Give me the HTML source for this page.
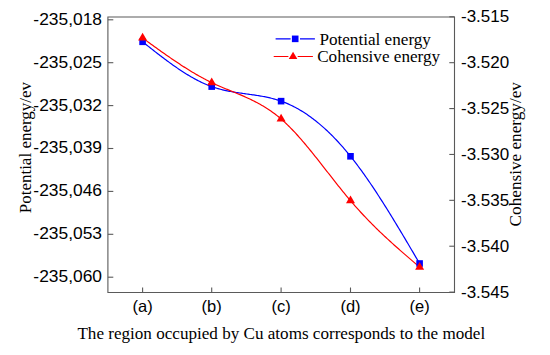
<!DOCTYPE html>
<html><head><meta charset="utf-8"><style>
html,body{margin:0;padding:0;background:#fff;}
body{width:550px;height:355px;overflow:hidden;}
svg{display:block;}
.s{font-family:"Liberation Sans",sans-serif;font-size:17px;fill:#000;}
.sl{font-family:"Liberation Sans",sans-serif;font-size:17.4px;fill:#000;}
.s16{font-family:"Liberation Sans",sans-serif;font-size:16.5px;fill:#000;}
.t{font-family:"Liberation Serif",serif;font-size:17px;fill:#000;}
.lg{font-family:"Liberation Serif",serif;font-size:17.15px;fill:#000;}
</style></head><body>
<svg width="550" height="355" viewBox="0 0 550 355">
<path d="M107.9,16.4 V293.05 M454.5,16.4 V293.05 M107.35000000000001,16.95 H455.05 M107.35000000000001,292.5 H455.05" fill="none" stroke="#5a5a5a" stroke-width="1.1"/>
<line x1="107.9" y1="19.80" x2="113.30000000000001" y2="19.80" stroke="#5a5a5a" stroke-width="1.1"/>
<text x="102" y="24.70" text-anchor="end" class="sl">-235,018</text>
<line x1="107.9" y1="62.70" x2="113.30000000000001" y2="62.70" stroke="#5a5a5a" stroke-width="1.1"/>
<text x="102" y="67.60" text-anchor="end" class="sl">-235,025</text>
<line x1="107.9" y1="105.60" x2="113.30000000000001" y2="105.60" stroke="#5a5a5a" stroke-width="1.1"/>
<text x="102" y="110.50" text-anchor="end" class="sl">-235,032</text>
<line x1="107.9" y1="148.50" x2="113.30000000000001" y2="148.50" stroke="#5a5a5a" stroke-width="1.1"/>
<text x="102" y="153.40" text-anchor="end" class="sl">-235,039</text>
<line x1="107.9" y1="191.40" x2="113.30000000000001" y2="191.40" stroke="#5a5a5a" stroke-width="1.1"/>
<text x="102" y="196.30" text-anchor="end" class="sl">-235,046</text>
<line x1="107.9" y1="234.30" x2="113.30000000000001" y2="234.30" stroke="#5a5a5a" stroke-width="1.1"/>
<text x="102" y="239.20" text-anchor="end" class="sl">-235,053</text>
<line x1="107.9" y1="277.20" x2="113.30000000000001" y2="277.20" stroke="#5a5a5a" stroke-width="1.1"/>
<text x="102" y="282.10" text-anchor="end" class="sl">-235,060</text>
<line x1="449.3" y1="16.80" x2="454.5" y2="16.80" stroke="#5a5a5a" stroke-width="1.1"/>
<text x="461" y="21.70" class="s">-3.515</text>
<line x1="449.3" y1="62.68" x2="454.5" y2="62.68" stroke="#5a5a5a" stroke-width="1.1"/>
<text x="461" y="67.81" class="s">-3.520</text>
<line x1="449.3" y1="108.57" x2="454.5" y2="108.57" stroke="#5a5a5a" stroke-width="1.1"/>
<text x="461" y="113.93" class="s">-3.525</text>
<line x1="449.3" y1="154.45" x2="454.5" y2="154.45" stroke="#5a5a5a" stroke-width="1.1"/>
<text x="461" y="160.04" class="s">-3.530</text>
<line x1="449.3" y1="200.33" x2="454.5" y2="200.33" stroke="#5a5a5a" stroke-width="1.1"/>
<text x="461" y="206.15" class="s">-3.535</text>
<line x1="449.3" y1="246.22" x2="454.5" y2="246.22" stroke="#5a5a5a" stroke-width="1.1"/>
<text x="461" y="252.27" class="s">-3.540</text>
<line x1="449.3" y1="292.10" x2="454.5" y2="292.10" stroke="#5a5a5a" stroke-width="1.1"/>
<text x="461" y="298.38" class="s">-3.545</text>
<line x1="142.60" y1="287.5" x2="142.60" y2="292.5" stroke="#5a5a5a" stroke-width="1.1"/>
<text x="142.60" y="311.6" text-anchor="middle" class="s16">(a)</text>
<line x1="211.70" y1="287.5" x2="211.70" y2="292.5" stroke="#5a5a5a" stroke-width="1.1"/>
<text x="211.70" y="311.6" text-anchor="middle" class="s16">(b)</text>
<line x1="281.10" y1="287.5" x2="281.10" y2="292.5" stroke="#5a5a5a" stroke-width="1.1"/>
<text x="281.10" y="311.6" text-anchor="middle" class="s16">(c)</text>
<line x1="350.50" y1="287.5" x2="350.50" y2="292.5" stroke="#5a5a5a" stroke-width="1.1"/>
<text x="350.50" y="311.6" text-anchor="middle" class="s16">(d)</text>
<line x1="419.60" y1="287.5" x2="419.60" y2="292.5" stroke="#5a5a5a" stroke-width="1.1"/>
<text x="419.60" y="311.6" text-anchor="middle" class="s16">(e)</text>
<path d="M142.60,41.80 L143.76,42.72 L144.92,43.64 L146.08,44.56 L147.24,45.48 L148.39,46.39 L149.55,47.31 L150.71,48.22 L151.87,49.14 L153.03,50.05 L154.19,50.95 L155.35,51.86 L156.51,52.76 L157.67,53.66 L158.83,54.55 L159.98,55.44 L161.14,56.33 L162.30,57.21 L163.46,58.08 L164.62,58.95 L165.78,59.82 L166.94,60.68 L168.10,61.54 L169.26,62.38 L170.42,63.22 L171.57,64.06 L172.73,64.89 L173.89,65.71 L175.05,66.52 L176.21,67.32 L177.37,68.12 L178.53,68.91 L179.69,69.69 L180.85,70.46 L182.01,71.22 L183.16,71.97 L184.32,72.71 L185.48,73.44 L186.64,74.16 L187.80,74.87 L188.96,75.56 L190.12,76.25 L191.28,76.93 L192.44,77.59 L193.60,78.24 L194.75,78.88 L195.91,79.50 L197.07,80.12 L198.23,80.72 L199.39,81.30 L200.55,81.87 L201.71,82.43 L202.87,82.97 L204.03,83.50 L205.19,84.01 L206.34,84.51 L207.50,84.99 L208.66,85.46 L209.82,85.91 L210.98,86.34 L212.14,86.76 L213.30,87.16 L214.46,87.54 L215.62,87.91 L216.78,88.26 L217.93,88.60 L219.09,88.92 L220.25,89.23 L221.41,89.53 L222.57,89.82 L223.73,90.09 L224.89,90.35 L226.05,90.61 L227.21,90.85 L228.37,91.08 L229.52,91.31 L230.68,91.52 L231.84,91.73 L233.00,91.93 L234.16,92.13 L235.32,92.31 L236.48,92.50 L237.64,92.67 L238.80,92.85 L239.96,93.02 L241.11,93.18 L242.27,93.35 L243.43,93.51 L244.59,93.67 L245.75,93.83 L246.91,93.99 L248.07,94.15 L249.23,94.31 L250.39,94.47 L251.55,94.63 L252.70,94.80 L253.86,94.96 L255.02,95.14 L256.18,95.31 L257.34,95.49 L258.50,95.68 L259.66,95.87 L260.82,96.07 L261.98,96.27 L263.14,96.48 L264.29,96.70 L265.45,96.93 L266.61,97.17 L267.77,97.42 L268.93,97.68 L270.09,97.95 L271.25,98.23 L272.41,98.52 L273.57,98.82 L274.73,99.14 L275.88,99.47 L277.04,99.82 L278.20,100.18 L279.36,100.56 L280.52,100.95 L281.68,101.36 L282.84,101.78 L284.00,102.22 L285.16,102.68 L286.32,103.16 L287.47,103.65 L288.63,104.16 L289.79,104.69 L290.95,105.23 L292.11,105.79 L293.27,106.37 L294.43,106.96 L295.59,107.57 L296.75,108.20 L297.91,108.84 L299.06,109.51 L300.22,110.19 L301.38,110.88 L302.54,111.59 L303.70,112.33 L304.86,113.07 L306.02,113.84 L307.18,114.62 L308.34,115.42 L309.50,116.23 L310.65,117.07 L311.81,117.92 L312.97,118.78 L314.13,119.67 L315.29,120.57 L316.45,121.49 L317.61,122.43 L318.77,123.38 L319.93,124.35 L321.09,125.34 L322.24,126.35 L323.40,127.37 L324.56,128.41 L325.72,129.47 L326.88,130.55 L328.04,131.64 L329.20,132.75 L330.36,133.88 L331.52,135.03 L332.68,136.19 L333.83,137.37 L334.99,138.57 L336.15,139.78 L337.31,141.02 L338.47,142.27 L339.63,143.54 L340.79,144.82 L341.95,146.13 L343.11,147.45 L344.27,148.79 L345.42,150.15 L346.58,151.52 L347.74,152.91 L348.90,154.33 L350.06,155.75 L351.22,157.20 L352.38,158.66 L353.54,160.14 L354.70,161.64 L355.86,163.16 L357.01,164.69 L358.17,166.24 L359.33,167.80 L360.49,169.38 L361.65,170.97 L362.81,172.58 L363.97,174.20 L365.13,175.84 L366.29,177.49 L367.45,179.16 L368.60,180.84 L369.76,182.53 L370.92,184.24 L372.08,185.95 L373.24,187.68 L374.40,189.43 L375.56,191.18 L376.72,192.95 L377.88,194.72 L379.04,196.51 L380.19,198.31 L381.35,200.11 L382.51,201.93 L383.67,203.76 L384.83,205.59 L385.99,207.44 L387.15,209.29 L388.31,211.15 L389.47,213.02 L390.63,214.90 L391.78,216.79 L392.94,218.68 L394.10,220.58 L395.26,222.48 L396.42,224.40 L397.58,226.32 L398.74,228.24 L399.90,230.17 L401.06,232.10 L402.22,234.04 L403.37,235.99 L404.53,237.93 L405.69,239.89 L406.85,241.84 L408.01,243.80 L409.17,245.76 L410.33,247.73 L411.49,249.69 L412.65,251.66 L413.81,253.63 L414.96,255.60 L416.12,257.58 L417.28,259.55 L418.44,261.52 L419.60,263.50" fill="none" stroke="#0000ff" stroke-width="1.2"/>
<path d="M142.60,38.00 L143.76,38.84 L144.92,39.69 L146.08,40.53 L147.24,41.37 L148.39,42.22 L149.55,43.06 L150.71,43.90 L151.87,44.74 L153.03,45.58 L154.19,46.41 L155.35,47.25 L156.51,48.08 L157.67,48.91 L158.83,49.74 L159.98,50.57 L161.14,51.39 L162.30,52.21 L163.46,53.03 L164.62,53.85 L165.78,54.66 L166.94,55.47 L168.10,56.28 L169.26,57.08 L170.42,57.88 L171.57,58.68 L172.73,59.47 L173.89,60.26 L175.05,61.04 L176.21,61.82 L177.37,62.59 L178.53,63.36 L179.69,64.12 L180.85,64.88 L182.01,65.63 L183.16,66.38 L184.32,67.12 L185.48,67.86 L186.64,68.59 L187.80,69.31 L188.96,70.03 L190.12,70.74 L191.28,71.45 L192.44,72.15 L193.60,72.84 L194.75,73.52 L195.91,74.20 L197.07,74.87 L198.23,75.53 L199.39,76.18 L200.55,76.83 L201.71,77.46 L202.87,78.09 L204.03,78.71 L205.19,79.33 L206.34,79.93 L207.50,80.52 L208.66,81.11 L209.82,81.69 L210.98,82.25 L212.14,82.81 L213.30,83.36 L214.46,83.90 L215.62,84.43 L216.78,84.95 L217.93,85.47 L219.09,85.98 L220.25,86.48 L221.41,86.98 L222.57,87.47 L223.73,87.96 L224.89,88.45 L226.05,88.93 L227.21,89.41 L228.37,89.88 L229.52,90.36 L230.68,90.83 L231.84,91.31 L233.00,91.78 L234.16,92.26 L235.32,92.74 L236.48,93.22 L237.64,93.70 L238.80,94.18 L239.96,94.67 L241.11,95.16 L242.27,95.66 L243.43,96.16 L244.59,96.67 L245.75,97.19 L246.91,97.71 L248.07,98.24 L249.23,98.78 L250.39,99.32 L251.55,99.88 L252.70,100.45 L253.86,101.02 L255.02,101.61 L256.18,102.21 L257.34,102.82 L258.50,103.45 L259.66,104.09 L260.82,104.74 L261.98,105.40 L263.14,106.09 L264.29,106.78 L265.45,107.50 L266.61,108.23 L267.77,108.97 L268.93,109.74 L270.09,110.52 L271.25,111.33 L272.41,112.15 L273.57,112.99 L274.73,113.85 L275.88,114.74 L277.04,115.65 L278.20,116.57 L279.36,117.53 L280.52,118.50 L281.68,119.50 L282.84,120.53 L284.00,121.57 L285.16,122.65 L286.32,123.74 L287.47,124.85 L288.63,125.99 L289.79,127.14 L290.95,128.32 L292.11,129.52 L293.27,130.73 L294.43,131.96 L295.59,133.21 L296.75,134.48 L297.91,135.76 L299.06,137.06 L300.22,138.37 L301.38,139.70 L302.54,141.04 L303.70,142.39 L304.86,143.76 L306.02,145.13 L307.18,146.52 L308.34,147.92 L309.50,149.33 L310.65,150.75 L311.81,152.18 L312.97,153.62 L314.13,155.06 L315.29,156.51 L316.45,157.97 L317.61,159.43 L318.77,160.90 L319.93,162.37 L321.09,163.85 L322.24,165.32 L323.40,166.81 L324.56,168.29 L325.72,169.77 L326.88,171.26 L328.04,172.75 L329.20,174.23 L330.36,175.72 L331.52,177.20 L332.68,178.68 L333.83,180.16 L334.99,181.63 L336.15,183.10 L337.31,184.56 L338.47,186.02 L339.63,187.48 L340.79,188.92 L341.95,190.36 L343.11,191.79 L344.27,193.22 L345.42,194.63 L346.58,196.03 L347.74,197.43 L348.90,198.81 L350.06,200.18 L351.22,201.54 L352.38,202.89 L353.54,204.22 L354.70,205.55 L355.86,206.86 L357.01,208.16 L358.17,209.45 L359.33,210.72 L360.49,211.99 L361.65,213.25 L362.81,214.49 L363.97,215.73 L365.13,216.95 L366.29,218.17 L367.45,219.37 L368.60,220.57 L369.76,221.76 L370.92,222.94 L372.08,224.11 L373.24,225.27 L374.40,226.42 L375.56,227.56 L376.72,228.70 L377.88,229.83 L379.04,230.95 L380.19,232.07 L381.35,233.17 L382.51,234.27 L383.67,235.37 L384.83,236.45 L385.99,237.54 L387.15,238.61 L388.31,239.68 L389.47,240.74 L390.63,241.80 L391.78,242.85 L392.94,243.90 L394.10,244.94 L395.26,245.98 L396.42,247.02 L397.58,248.05 L398.74,249.07 L399.90,250.10 L401.06,251.11 L402.22,252.13 L403.37,253.14 L404.53,254.15 L405.69,255.16 L406.85,256.16 L408.01,257.16 L409.17,258.16 L410.33,259.16 L411.49,260.16 L412.65,261.15 L413.81,262.14 L414.96,263.14 L416.12,264.13 L417.28,265.12 L418.44,266.11 L419.60,267.10" fill="none" stroke="#ff0000" stroke-width="1.2"/>
<rect x="139.30" y="38.50" width="6.6" height="6.6" fill="#0000ff"/>
<rect x="208.40" y="83.30" width="6.6" height="6.6" fill="#0000ff"/>
<rect x="277.80" y="97.85" width="6.6" height="6.6" fill="#0000ff"/>
<rect x="347.20" y="153.00" width="6.6" height="6.6" fill="#0000ff"/>
<rect x="416.30" y="260.20" width="6.6" height="6.6" fill="#0000ff"/>
<polygon points="142.60,32.80 147.10,40.60 138.10,40.60" fill="#ff0000"/>
<polygon points="211.70,77.40 216.20,85.20 207.20,85.20" fill="#ff0000"/>
<polygon points="281.10,113.80 285.60,121.60 276.60,121.60" fill="#ff0000"/>
<polygon points="350.50,195.50 355.00,203.30 346.00,203.30" fill="#ff0000"/>
<polygon points="419.60,261.90 424.10,269.70 415.10,269.70" fill="#ff0000"/>
<path d="M275.6,38.8 H290.6 M300,38.8 H314.9" stroke="#0000ff" stroke-width="1.2"/>
<rect x="291.90" y="35.55" width="6.6" height="6.6" fill="#0000ff"/>
<text x="319.4" y="44.7" class="lg">Potential energy</text>
<path d="M273.7,56.5 H288.4 M297.7,56.5 H312.9" stroke="#ff0000" stroke-width="1.2"/>
<polygon points="293.05,51.80 297.35,59.00 288.75,59.00" fill="#ff0000"/>
<text x="317.2" y="62.1" class="lg">Cohensive energy</text>
<text x="0" y="0" class="t" transform="translate(30.5,213.3) rotate(-90)">Potential energy/ev</text>
<text x="0" y="0" class="t" style="font-size:17.2px" transform="translate(520.8,226.4) rotate(-90)">Cohensive energy/ev</text>
<text x="77.4" y="338.9" class="t" style="font-size:17.1px">The region occupied by Cu atoms corresponds to the model</text>
</svg>
</body></html>
